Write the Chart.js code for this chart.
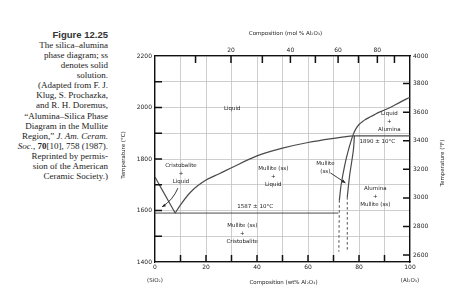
<!DOCTYPE html>
<html><head><meta charset="utf-8">
<script src="https://cdn.jsdelivr.net/npm/chart.js@4/dist/chart.umd.min.js"></script>
<style>
html,body{margin:0;padding:0;background:#fff;width:474px;height:294px;overflow:hidden;}
#wrap{position:relative;width:474px;height:294px;}
canvas{position:absolute;left:0;top:0;}
#cap{position:absolute;right:366px;top:30px;text-align:right;font-family:'Liberation Serif',serif;font-size:9px;line-height:10.07px;color:#222;white-space:nowrap;}
#cap .fig{font-family:'Liberation Sans',sans-serif;font-weight:bold;font-size:9.5px;color:#333;}
</style></head>
<body><div id="wrap">
<div id="cap"><div class="fig">Figure 12.25</div>The silica–alumina<br>phase diagram; ss<br>denotes solid<br>solution.<br>(Adapted from F. J.<br>Klug, S. Prochazka,<br>and R. H. Doremus,<br>“Alumina–Silica Phase<br>Diagram in the Mullite<br>Region,” <i>J. Am. Ceram.<br>Soc.</i>, <b>70</b>[10], 758 (1987).<br>Reprinted by permis-<br>sion of the American<br>Ceramic Society.)</div>
<canvas id="c" width="474" height="294"></canvas>
</div>
<script>
// ---- data (wt% Al2O3, °C) ----
const wtTicks = [0,10,20,30,40,50,60,70,80,90,100];
const wtTickLabels = [0,20,40,60,80,100];
const tempTicksC = [1400,1500,1600,1700,1800,1900,2000,2100,2200];
const tempTickLabelsC = [1400,1600,1800,2000,2200];
const molTickPosWt = [15.9,29.8,42.1,53.1,62.9,71.8,79.8,87.2,93.9];
const molTickLabels = ['','20','','40','','60','','80',''];
const fTickPosC = [1427,1538,1649,1760,1871,1982,2093,2200];
const fTickLabels = ['2600','2800','3000','3200','3400','3600','3800','4000'];

const silicaLiquidus = [[0,1730],[7.9,1590]];
const mulliteLiquidus = [[7.9,1590],[10,1622],[14,1672],[20,1718],[25,1742],[30,1766],[40,1812],[50,1842],[60,1864],[70,1880],[77.5,1890]];
const aluminaLiquidus = [[77.5,1890],[78.5,1912],[80,1934],[82,1950],[84.5,1964],[88,1982],[92,1999],[96,2020],[100,2040]];
const eutecticLine = [[0,1590],[71.9,1590]];
const peritecticLine = [[77.5,1890],[100,1890]];
const mulliteLeft = [[72.3,1640],[73.0,1700],[74.5,1780],[76.0,1840],[77.5,1890]];
const mulliteRight = [[75.4,1652],[76.3,1734],[77.8,1835],[78.2,1890]];
const mulliteLeftDashed = [[72.3,1640],[72.1,1440]];
const mulliteRightDashed = [[75.4,1652],[75.4,1440]];

const regionLabels = [
  {lines:['Liquid'], x:30.3, y:1996},
  {lines:['Cristobalite','+','Liquid'], x:10.2, y:1773},
  {lines:['Mullite (ss)','+','Liquid'], x:46.4, y:1761},
  {lines:['1587 ± 10°C'], x:39.3, y:1617},
  {lines:['Mullite (ss)','+','Cristobalite'], x:34.2, y:1540},
  {lines:['Mullite','(ss)'], x:66.8, y:1784},
  {lines:['Alumina','+','Mullite (ss)'], x:86.4, y:1687},
  {lines:['Liquid','+','Alumina'], x:91.9, y:1975},
  {lines:['1890 ± 10°C'], x:87.2, y:1866}
];
const arrows = [
  {from:[9.0,1687], ctrl:[7.0,1640], to:[2.75,1614]},
  {from:[68.8,1746], ctrl:[71.5,1728], to:[74.7,1707]}
];

const pts = a => a.map(p=>({x:p[0],y:p[1]}));
const LC = '#4a4a4a';
function ds(arr, opts){
  return Object.assign({data:pts(arr),showLine:true,pointRadius:0,borderColor:LC,borderWidth:1.2,fill:false,xAxisID:'x',yAxisID:'y'},opts||{});
}

const decor = {
  id:'decor',
  afterDraw(chart){
    const ctx = chart.ctx, ca = chart.chartArea;
    const sx = chart.scales.x, sy = chart.scales.y;
    ctx.save();
    // inward tick marks
    ctx.strokeStyle = '#111'; ctx.lineWidth = 1.5;
    ctx.beginPath();
    wtTicks.forEach(v=>{ if(v>0&&v<100){const px=sx.getPixelForValue(v); ctx.moveTo(px,ca.bottom); ctx.lineTo(px,ca.bottom-7);} });
    molTickPosWt.forEach(v=>{const px=sx.getPixelForValue(v); ctx.moveTo(px,ca.top); ctx.lineTo(px,ca.top+7);});
    tempTicksC.forEach(v=>{ if(v>1400&&v<2200){const py=sy.getPixelForValue(v); ctx.moveTo(ca.left,py); ctx.lineTo(ca.left+7,py);} });
    fTickPosC.forEach(v=>{ if(v<2200){const py=sy.getPixelForValue(v); ctx.moveTo(ca.right,py); ctx.lineTo(ca.right-7,py);} });
    ctx.stroke();
    // region labels
    ctx.fillStyle = '#222';
    ctx.font = '5.5px "DejaVu Sans"';
    ctx.textAlign = 'center'; ctx.textBaseline = 'middle';
    regionLabels.forEach(l=>{
      const px = sx.getPixelForValue(l.x), py = sy.getPixelForValue(l.y);
      l.lines.forEach((t,i)=>ctx.fillText(t,px,py+i*8));
    });
    // arrows
    ctx.strokeStyle = '#222'; ctx.fillStyle = '#222'; ctx.lineWidth = 0.9;
    arrows.forEach(a=>{
      const f=[sx.getPixelForValue(a.from[0]),sy.getPixelForValue(a.from[1])];
      const c=[sx.getPixelForValue(a.ctrl[0]),sy.getPixelForValue(a.ctrl[1])];
      const t=[sx.getPixelForValue(a.to[0]),sy.getPixelForValue(a.to[1])];
      ctx.beginPath(); ctx.moveTo(f[0],f[1]); ctx.quadraticCurveTo(c[0],c[1],t[0],t[1]); ctx.stroke();
      const ang = Math.atan2(t[1]-c[1], t[0]-c[0]);
      ctx.beginPath();
      ctx.moveTo(t[0],t[1]);
      ctx.lineTo(t[0]-4*Math.cos(ang-0.4), t[1]-4*Math.sin(ang-0.4));
      ctx.lineTo(t[0]-4*Math.cos(ang+0.4), t[1]-4*Math.sin(ang+0.4));
      ctx.closePath(); ctx.fill();
    });
    // axis titles
    ctx.font = '5.5px "DejaVu Sans"'; ctx.fillStyle = '#222';
    ctx.fillText('Composition (mol % Al₂O₃)', (ca.left+ca.right)/2+3, ca.top-22);
    ctx.fillText('Composition (wt% Al₂O₃)', (ca.left+ca.right)/2+1, ca.bottom+21);
    ctx.fillText('(SiO₂)', ca.left, ca.bottom+19);
    ctx.fillText('(Al₂O₃)', ca.right, ca.bottom+19);
    ctx.save(); ctx.translate(ca.left-31,(ca.top+ca.bottom)/2-4); ctx.rotate(-Math.PI/2);
    ctx.fillText('Temperature (°C)',0,0); ctx.restore();
    ctx.save(); ctx.translate(ca.right+33,(ca.top+ca.bottom)/2+4); ctx.rotate(-Math.PI/2);
    ctx.fillText('Temperature (°F)',0,0); ctx.restore();
    ctx.restore();
  }
};

const tickFont = {family:'DejaVu Sans', size:6};
new Chart(document.getElementById('c'), {
  type:'scatter',
  data:{datasets:[
    ds(silicaLiquidus),
    ds(mulliteLiquidus,{cubicInterpolationMode:'monotone'}),
    ds(aluminaLiquidus,{cubicInterpolationMode:'monotone'}),
    ds(eutecticLine,{borderWidth:1}),
    ds(peritecticLine,{borderWidth:1.1}),
    ds(mulliteLeft,{tension:0.3}),
    ds(mulliteRight,{tension:0.3}),
    ds(mulliteLeftDashed,{borderDash:[2.5,2.5],borderWidth:1}),
    ds(mulliteRightDashed,{borderDash:[2.5,2.5],borderWidth:1})
  ]},
  options:{
    responsive:false, animation:false, devicePixelRatio:1,
    layout:{padding:{left:116,right:0,top:0,bottom:0}},
    plugins:{legend:{display:false}, tooltip:{enabled:false}},
    scales:{
      x:{type:'linear',position:'bottom',min:0,max:100,
        afterBuildTicks:s=>{s.ticks=wtTicks.map(v=>({value:v}));},
        ticks:{callback:v=>wtTickLabels.includes(v)?String(v):'',font:tickFont,color:'#222',padding:2,maxRotation:0,autoSkip:false},
        grid:{color:'#c2c2c2',lineWidth:0.8,drawTicks:false},
        border:{color:'#111',width:1.3},
        afterFit:s=>{s.height=32;}},
      xTop:{type:'linear',position:'top',min:0,max:100,
        afterBuildTicks:s=>{s.ticks=molTickPosWt.map(v=>({value:v}));},
        ticks:{callback:(v,i)=>molTickLabels[i],font:tickFont,color:'#222',padding:2,maxRotation:0,autoSkip:false},
        grid:{color:'rgba(0,0,0,0)',drawTicks:false},
        border:{color:'#111',width:1.3},
        afterFit:s=>{s.height=56;}},
      y:{type:'linear',position:'left',min:1400,max:2200,
        afterBuildTicks:s=>{s.ticks=tempTicksC.map(v=>({value:v}));},
        ticks:{callback:v=>tempTickLabelsC.includes(v)?String(v):'',font:tickFont,color:'#222',padding:3,autoSkip:false},
        grid:{color:'#c2c2c2',lineWidth:0.8,drawTicks:false},
        border:{color:'#111',width:1.3},
        afterFit:s=>{s.width=39;}},
      y2:{type:'linear',position:'right',min:1400,max:2200,
        afterBuildTicks:s=>{s.ticks=fTickPosC.map(v=>({value:v}));},
        ticks:{callback:(v,i)=>fTickLabels[i],font:tickFont,color:'#222',padding:3,autoSkip:false},
        grid:{color:'rgba(0,0,0,0)',drawTicks:false},
        border:{color:'#111',width:1.3},
        afterFit:s=>{s.width=64;}}
    }
  },
  plugins:[decor]
});
</script>
</body></html>
